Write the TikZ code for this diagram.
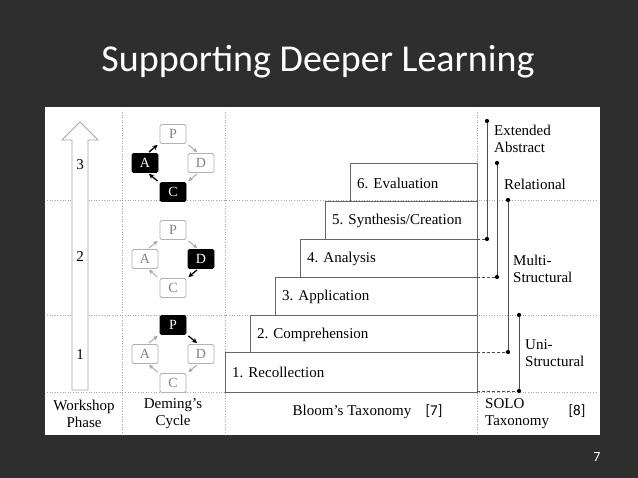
\documentclass[tikz,border=0pt]{standalone}
\usepackage{fontspec}
\usetikzlibrary{arrows.meta}
\setmainfont{Liberation Serif}
\newfontfamily\sansf{Carlito}
\begin{document}
\begin{tikzpicture}[x=1pt,y=-1pt,
 lbl/.style={font=\fontsize{15}{17}\selectfont,text=black,inner sep=0pt,align=center},
 dm/.style={draw=gray!60,rounded corners=1.5pt,minimum width=26,minimum height=19,inner sep=0pt,font=\fontsize{14}{15}\selectfont,text=gray,fill=white,line width=0.9pt},
 dmon/.style={dm,fill=black,text=white,draw=black},
 ar/.style={-{Stealth[length=4.5pt,width=4.5pt]},gray!70,line width=0.9pt},
 aron/.style={-{Stealth[length=5pt,width=5pt]},black,line width=1.3pt},
 grid/.style={gray!70,dotted,line width=0.6pt},
 stp/.style={draw=gray!80!black,line width=0.7pt},
 br/.style={black!70,line width=0.6pt},
 dot/.style={circle,fill=black,inner sep=1.5pt},
]
\useasboundingbox (0,0) rectangle (638,478);
\fill[black!82] (0,0) rectangle (638,478);
\node[font=\sansf\fontsize{38}{42}\selectfont,text=white] (title) at (318,62) {Supporting Deeper Learning};
\node[font=\sansf\fontsize{14}{16}\selectfont,text=white] (pg) at (597,457) {7};
\fill[white] (45,107) rectangle (600,435);
% grid
\draw[grid] (122,112) -- (122,432);
\draw[grid] (225,112) -- (225,432);
\draw[grid] (477,112) -- (477,432);
\foreach \y in {200,315,392} \draw[grid] (47,\y) -- (598,\y);
% steps
\foreach \x/\t/\bt/\lab [count=\i] in {225/352/392/{1. Recollection},250/315/352/{2. Comprehension},275/277/315/{3. Application},300/239/277/{4. Analysis},325/201/239/{5. Synthesis/Creation},350/163/201/{6. Evaluation}}{
 \draw[stp] (\x,\t) rectangle (477,\bt);
 \node[lbl,anchor=west] (s\i) at (\x+7,\t+20) {\lab};
}
% arrow
\draw[gray!70,line width=0.8pt,fill=white] (72,390) -- (72,140) -- (62,140) -- (80,122) -- (98,140) -- (88,140) -- (88,390) -- cycle;
\node[lbl] (n3) at (80,165) {3};
\node[lbl] (n2) at (80,257) {2};
\node[lbl] (n1) at (80,355) {1};
% Deming cycles
\newcommand{\cyc}[6]{%
 \node[#2] (P#1) at (173,#6) {P};
 \node[#3] (A#1) at (145,#6+29) {A};
 \node[#4] (D#1) at (201,#6+29) {D};
 \node[#5] (C#1) at (173,#6+58) {C};}
\cyc{a}{dm}{dmon}{dm}{dmon}{134}
\cyc{b}{dm}{dm}{dmon}{dm}{230}
\cyc{c}{dmon}{dm}{dm}{dm}{325}
\foreach \c/\pd/\dc/\ca/\ap in {a/ar/ar/aron/aron,b/ar/aron/ar/ar,c/aron/ar/ar/ar}{
 \draw[\pd] ([shift={(2,1)}]P\c.south east) -- ([shift={(-4,-1)}]D\c.north);
 \draw[\dc] ([shift={(-4,1)}]D\c.south) -- ([shift={(2,-1)}]C\c.north east);
 \draw[\ca] ([shift={(-2,-1)}]C\c.north west) -- ([shift={(4,1)}]A\c.south);
 \draw[\ap] ([shift={(4,-1)}]A\c.north) -- ([shift={(-2,1)}]P\c.south west);
}
% SOLO brackets
\foreach \x/\a/\b [count=\i] in {487/121/239,497/163/277,508/200/352,519/315/391}{
 \node[dot] (t\i) at (\x,\a) {};
 \node[dot] (b\i) at (\x,\b) {};
 \draw[br] (t\i) -- (b\i);
 \coordinate (e\i) at (477,\b);
 \draw[br,densely dashed] (e\i) -- (b\i);
}
\node[lbl,anchor=west,align=left] (ea) at (494,139) {Extended\\Abstract};
\node[lbl,anchor=west] (rel) at (504,184) {Relational};
\node[lbl,anchor=west,align=left] (mul) at (513,269) {Multi-\\Structural};
\node[lbl,anchor=west,align=left] (uni) at (525,353) {Uni-\\Structural};
% bottom labels
\node[lbl] (wp) at (84,414) {Workshop\\Phase};
\node[lbl] (dc) at (173,414) {Deming's\\Cycle};
\node[lbl] (bt) at (352,412) {Bloom's Taxonomy};
\node[font=\sansf\fontsize{15}{17}\selectfont] (r7) at (434,411) {[7]};
\node[lbl,anchor=west,align=left] (solo) at (485,414) {SOLO\\Taxonomy};
\node[font=\sansf\fontsize{15}{17}\selectfont] (r8) at (577,411) {[8]};
\end{tikzpicture}
\end{document}
